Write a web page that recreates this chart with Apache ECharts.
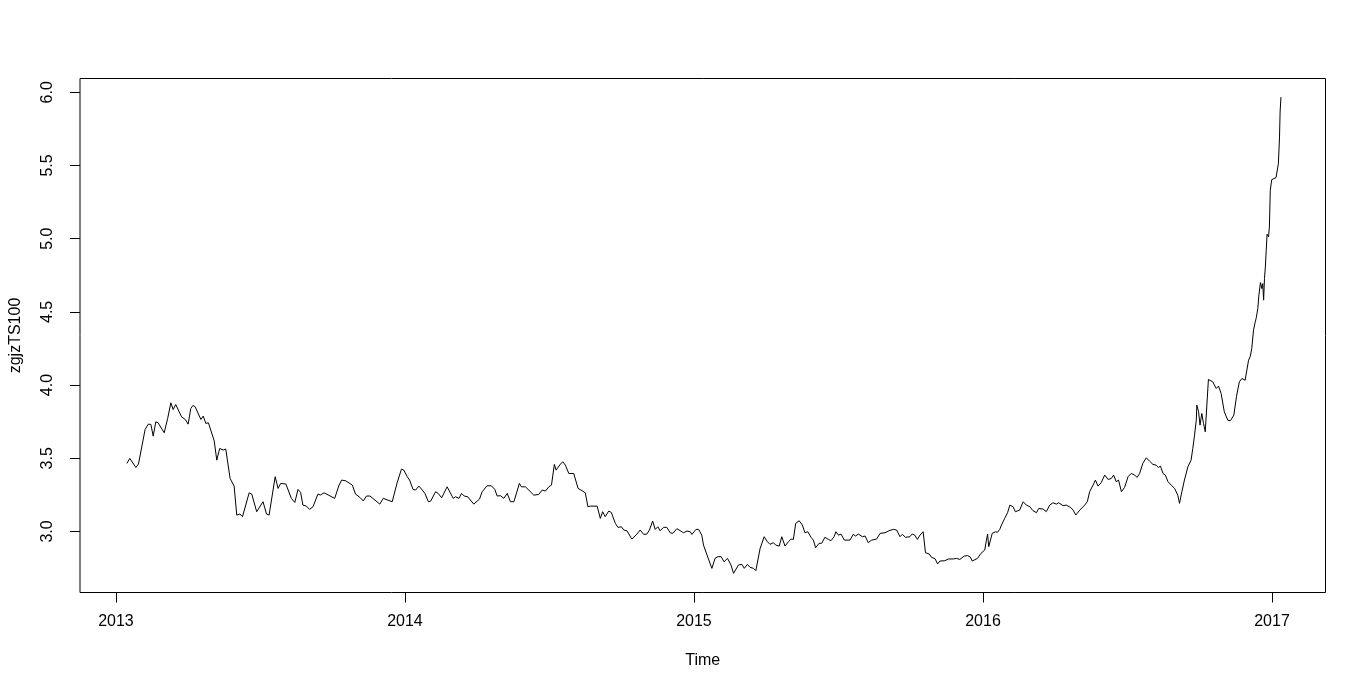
<!DOCTYPE html>
<html>
<head>
<meta charset="utf-8">
<script src="https://cdn.jsdelivr.net/npm/echarts@6/dist/echarts.min.js"></script>
<style>
html,body{margin:0;padding:0;background:#fff;}
#chart{width:1366px;height:690px;}
</style>
</head>
<body>
<div id="chart"></div>
<script>
// time (decimal year) of each vertex of the series
const times = [
2013.038,2013.048,2013.069,2013.078,2013.101,2013.112,2013.121,2013.129,2013.138,2013.146,
2013.167,2013.179,2013.190,2013.198,2013.207,2013.227,2013.240,2013.250,2013.259,2013.267,
2013.274,2013.294,2013.302,2013.311,2013.320,2013.340,2013.349,2013.359,2013.371,2013.380,
2013.395,2013.409,2013.418,2013.429,2013.438,2013.461,2013.470,2013.487,2013.509,2013.521,
2013.530,2013.551,2013.561,2013.570,2013.588,2013.607,2013.619,2013.630,2013.639,2013.647,
2013.659,2013.670,2013.682,2013.699,2013.708,2013.720,2013.757,2013.772,2013.781,2013.795,
2013.818,2013.829,2013.844,2013.856,2013.867,2013.879,2013.913,2013.925,2013.941,
2013.956,2013.973,2013.988,2013.996,2014.008,2014.016,2014.028,2014.037,2014.048,2014.060,
2014.069,2014.081,2014.089,2014.106,2014.115,2014.127,2014.146,2014.167,2014.175,2014.187,
2014.196,2014.205,2014.217,2014.238,2014.258,2014.267,2014.284,2014.299,2014.311,2014.319,
2014.331,2014.342,2014.354,2014.365,2014.377,2014.396,2014.403,2014.417,2014.446,2014.463,
2014.475,2014.486,2014.498,2014.507,2014.517,2014.523,2014.538,2014.546,2014.555,2014.567,
2014.584,2014.599,2014.613,2014.624,2014.633,2014.642,2014.665,2014.676,2014.684,2014.693,
2014.705,2014.714,2014.728,2014.737,2014.749,2014.757,2014.768,2014.785,2014.803,2014.814,
2014.826,2014.837,2014.846,2014.857,2014.866,2014.875,2014.883,2014.895,2014.906,2014.918,
2014.927,2014.941,2014.947,2014.964,2014.976,2014.987,2014.993,2015.007,2015.016,2015.027,
2015.033,2015.045,2015.062,2015.073,2015.083,2015.094,2015.104,2015.116,2015.128,2015.137,
2015.142,2015.154,2015.166,2015.174,2015.185,2015.194,2015.206,2015.214,2015.229,2015.243,
2015.254,2015.263,2015.275,2015.283,2015.295,2015.304,2015.315,2015.327,2015.336,2015.344,
2015.352,2015.364,2015.375,2015.384,2015.394,2015.405,2015.413,2015.421,2015.433,2015.442,
2015.453,2015.465,2015.474,2015.485,2015.491,2015.500,2015.509,2015.520,2015.540,2015.551,
2015.559,2015.569,2015.574,2015.583,2015.592,2015.603,2015.615,2015.632,2015.644,2015.661,
2015.675,2015.690,2015.701,2015.713,2015.721,2015.732,2015.747,2015.755,2015.764,2015.773,
2015.782,2015.793,2015.801,2015.814,2015.822,2015.834,2015.843,2015.851,2015.868,2015.880,
2015.897,2015.908,2015.920,2015.935,2015.946,2015.955,2015.963,2015.981,2015.993,2016.006,
2016.012,2016.016,2016.020,2016.032,2016.043,2016.050,2016.058,2016.064,
2016.075,2016.085,2016.093,2016.104,2016.112,2016.127,2016.139,2016.150,2016.162,2016.173,
2016.185,2016.193,2016.208,2016.219,2016.231,2016.242,2016.254,2016.262,2016.277,2016.288,
2016.303,2016.312,2016.321,2016.335,2016.352,2016.361,2016.369,2016.381,2016.389,2016.398,
2016.409,2016.421,2016.433,2016.444,2016.452,2016.461,2016.469,2016.479,2016.490,2016.502,
2016.513,2016.525,2016.533,2016.542,2016.553,2016.565,2016.576,2016.588,2016.599,2016.607,
2016.614,2016.623,2016.631,2016.640,2016.651,2016.663,2016.674,2016.680,2016.688,2016.697,
2016.709,2016.720,2016.726,2016.732,2016.738,2016.740,2016.746,2016.751,2016.757,2016.763,
2016.769,2016.775,2016.780,2016.795,2016.807,2016.815,2016.824,2016.835,2016.847,2016.856,
2016.868,2016.877,2016.887,2016.896,2016.902,2016.907,2016.913,2016.919,2016.925,2016.930,
2016.936,2016.942,2016.945,2016.951,2016.954,2016.960,2016.965,2016.968,2016.971,2016.974,
2016.977,2016.980,2016.983,2016.988,2016.991,2016.994,2016.999,2017.014,2017.020,2017.022,
2017.026,2017.028,2017.031
];
// zgjzTS100 value at each vertex
const values = [
3.465,3.499,3.437,3.460,3.697,3.733,3.731,3.651,3.749,3.742,
3.674,3.772,3.879,3.833,3.867,3.783,3.765,3.733,3.840,3.861,
3.852,3.765,3.788,3.738,3.742,3.619,3.487,3.567,3.556,3.563,
3.362,3.310,3.112,3.119,3.101,3.264,3.255,3.135,3.203,3.119,
3.112,3.374,3.294,3.328,3.324,3.226,3.198,3.287,3.267,3.180,
3.173,3.151,3.169,3.255,3.249,3.264,3.226,3.317,3.351,3.346,
3.317,3.255,3.233,3.208,3.242,3.242,3.187,3.226,3.214,
3.203,3.333,3.426,3.419,3.374,3.351,3.287,3.283,3.310,3.283,
3.260,3.203,3.207,3.271,3.260,3.230,3.305,3.226,3.237,3.226,
3.260,3.242,3.237,3.187,3.221,3.271,3.312,3.312,3.287,3.242,
3.244,3.226,3.260,3.203,3.203,3.328,3.305,3.305,3.248,3.253,
3.283,3.276,3.305,3.317,3.458,3.419,3.460,3.476,3.453,3.396,
3.396,3.294,3.278,3.264,3.169,3.173,3.173,3.089,3.135,3.101,
3.139,3.130,3.055,3.028,3.032,3.010,3.005,2.948,2.982,3.010,
2.980,2.982,3.010,3.071,3.014,3.032,3.005,3.028,3.028,2.991,
2.987,3.019,3.025,2.991,3.003,2.998,2.980,3.014,3.014,2.975,
2.907,2.839,2.748,2.816,2.828,2.828,2.793,2.816,2.771,2.714,
2.714,2.771,2.775,2.748,2.775,2.755,2.748,2.732,2.885,2.964,
2.930,2.912,2.923,2.907,2.900,2.964,2.900,2.930,2.948,2.946,
3.055,3.073,3.044,2.991,2.998,2.960,2.941,2.889,2.919,2.919,
2.960,2.946,2.937,2.964,2.998,2.975,2.982,2.941,2.941,2.980,
2.969,2.982,2.987,2.964,2.969,2.923,2.941,2.948,2.987,2.991,
3.005,3.014,3.010,2.964,2.980,2.960,2.964,2.982,2.975,2.946,
2.975,2.998,2.855,2.846,2.823,2.814,2.778,2.798,2.800,2.812,
2.812,2.816,2.809,2.832,2.835,2.828,2.798,2.816,2.850,2.873,
2.941,2.982,2.896,2.987,2.998,2.994,3.014,3.044,
3.089,3.128,3.180,3.169,3.135,3.146,3.203,3.180,3.169,3.142,
3.128,3.157,3.153,3.135,3.180,3.196,3.187,3.196,3.176,3.180,
3.164,3.146,3.112,3.146,3.180,3.203,3.271,3.317,3.351,3.310,
3.333,3.385,3.355,3.362,3.385,3.340,3.351,3.271,3.301,3.374,
3.396,3.385,3.369,3.396,3.465,3.503,3.481,3.458,3.453,3.437,
3.446,3.396,3.385,3.340,3.317,3.294,3.248,3.192,3.271,3.351,
3.442,3.487,3.567,3.658,3.760,3.863,3.817,3.726,3.806,3.738,
3.681,3.690,4.038,4.022,3.977,3.993,3.942,3.817,3.760,3.756,
3.795,3.920,4.022,4.045,4.045,4.033,4.102,4.170,4.197,4.250,
4.375,4.432,4.454,4.523,4.602,4.700,4.659,4.693,4.580,4.727,
4.807,4.921,5.030,5.012,5.080,5.330,5.403,5.417,5.421,5.512,
5.694,5.865,5.967
];
const xTicks = [2013, 2014, 2015, 2016, 2017];
const yTicks = [3.0, 3.5, 4.0, 4.5, 5.0, 5.5, 6.0];
const xTitle = 'Time';
const yTitle = 'zgjzTS100';

const seriesData = times.map((t, i) => [t, values[i]]);
const FONT = '"Liberation Sans", Arial, sans-serif';

const chart = echarts.init(document.getElementById('chart'), null, {renderer: 'canvas'});
chart.setOption({
  animation: false,
  backgroundColor: '#ffffff',
  grid: {
    left: 77.5, top: 78.5, width: 1248, height: 514,
    show: true, borderColor: '#000', borderWidth: 1, backgroundColor: 'transparent',
    containLabel: false
  },
  xAxis: {
    type: 'value',
    min: 2012.8757, max: 2017.1851,
    name: xTitle, nameLocation: 'middle', nameGap: 60,
    nameTextStyle: {color: '#000', fontSize: 16, fontFamily: FONT},
    axisLine: {show: false},
    splitLine: {show: false},
    axisTick: {show: true, inside: false, length: 10, customValues: xTicks,
      lineStyle: {color: '#000', width: 1}},
    axisLabel: {show: true, customValues: xTicks, margin: 21, color: '#000',
      fontSize: 16, fontFamily: FONT, formatter: v => String(Math.round(v))}
  },
  yAxis: {
    type: 'value',
    min: 2.583, max: 6.094,
    name: yTitle, nameLocation: 'middle', nameGap: 56,
    nameTextStyle: {color: '#000', fontSize: 16, fontFamily: FONT},
    axisLine: {show: false},
    splitLine: {show: false},
    axisTick: {show: true, inside: false, length: 10, customValues: yTicks,
      lineStyle: {color: '#000', width: 1}},
    axisLabel: {show: true, customValues: yTicks, margin: 24, rotate: 90, color: '#000',
      fontSize: 16, fontFamily: FONT, formatter: v => v.toFixed(1)}
  },
  series: [{
    type: 'line',
    data: seriesData,
    showSymbol: false,
    symbol: 'none',
    smooth: false,
    lineStyle: {color: '#000', width: 1},
    silent: true
  }]
});
</script>
</body>
</html>
